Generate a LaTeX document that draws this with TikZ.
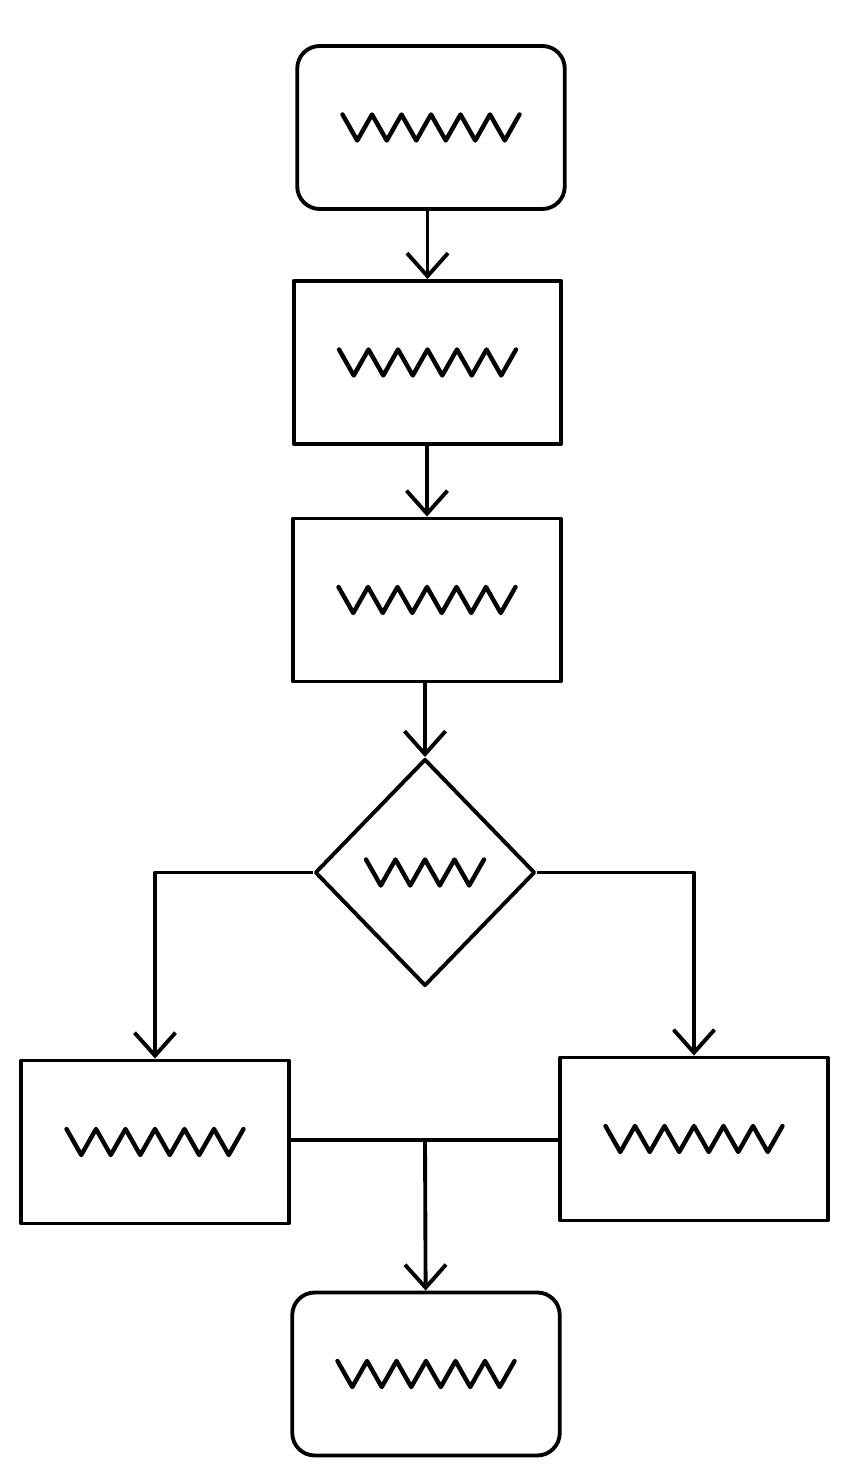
\documentclass[tikz,border=0pt]{standalone}
\usetikzlibrary{arrows.meta,shapes.geometric,calc}

\newcommand{\squiggle}[2]{% zigzag in place of a label: node, teeth
  \draw[scrib] ($(#1.center)+(-0.295*#2,0.26)$)
    \foreach \t in {1,...,#2}{ -- ++(0.295,-0.52) -- ++(0.295,0.52) };}

\begin{document}
\begin{tikzpicture}[x=1cm, y=1cm, >={Straight Barb[length=4.6mm, width=8.2mm]},
  line width=2.2pt, line join=round,
  stepbox/.style={draw, minimum width=5.35cm, minimum height=3.26cm},
  endbox/.style={stepbox, rounded corners=4.5mm},
  choice/.style={draw, diamond, minimum width=4.4cm,
    minimum height=4.54cm, inner sep=0pt},
  scrib/.style={line width=2.5pt, line cap=round}]
\useasboundingbox (0,0) rectangle (17.1,29.64);
\node[endbox] (start) at (8.62,27.09) {};
\node[stepbox] (first) at (8.55,22.39) {};
\node[stepbox] (second) at (8.54,17.64) {};
\node[choice] (test) at (8.50,12.19) {};
\node[stepbox] (lbox) at (3.10,6.80) {};
\node[stepbox] (rbox) at (13.88,6.86) {};
\node[endbox] (stop) at (8.52,2.16) {};
\coordinate (join) at (8.50,6.84);
\squiggle{start}{6}
\squiggle{first}{6}
\squiggle{second}{6}
\squiggle{test}{4}
\squiggle{lbox}{6}
\squiggle{rbox}{6}
\squiggle{stop}{6}
\draw[->] (first.north |- start.south) -- (first);
\draw[->] (second.north |- first.south) -- (second);
\draw[->] (test.north |- second.south) -- (test);
\draw[->] (test.west) -| (lbox);
\draw[->] (test.east) -| (rbox);
\draw (lbox.east |- join) -- (rbox.west |- join);
\draw[->] (join) -- (stop);
\end{tikzpicture}
\end{document}
